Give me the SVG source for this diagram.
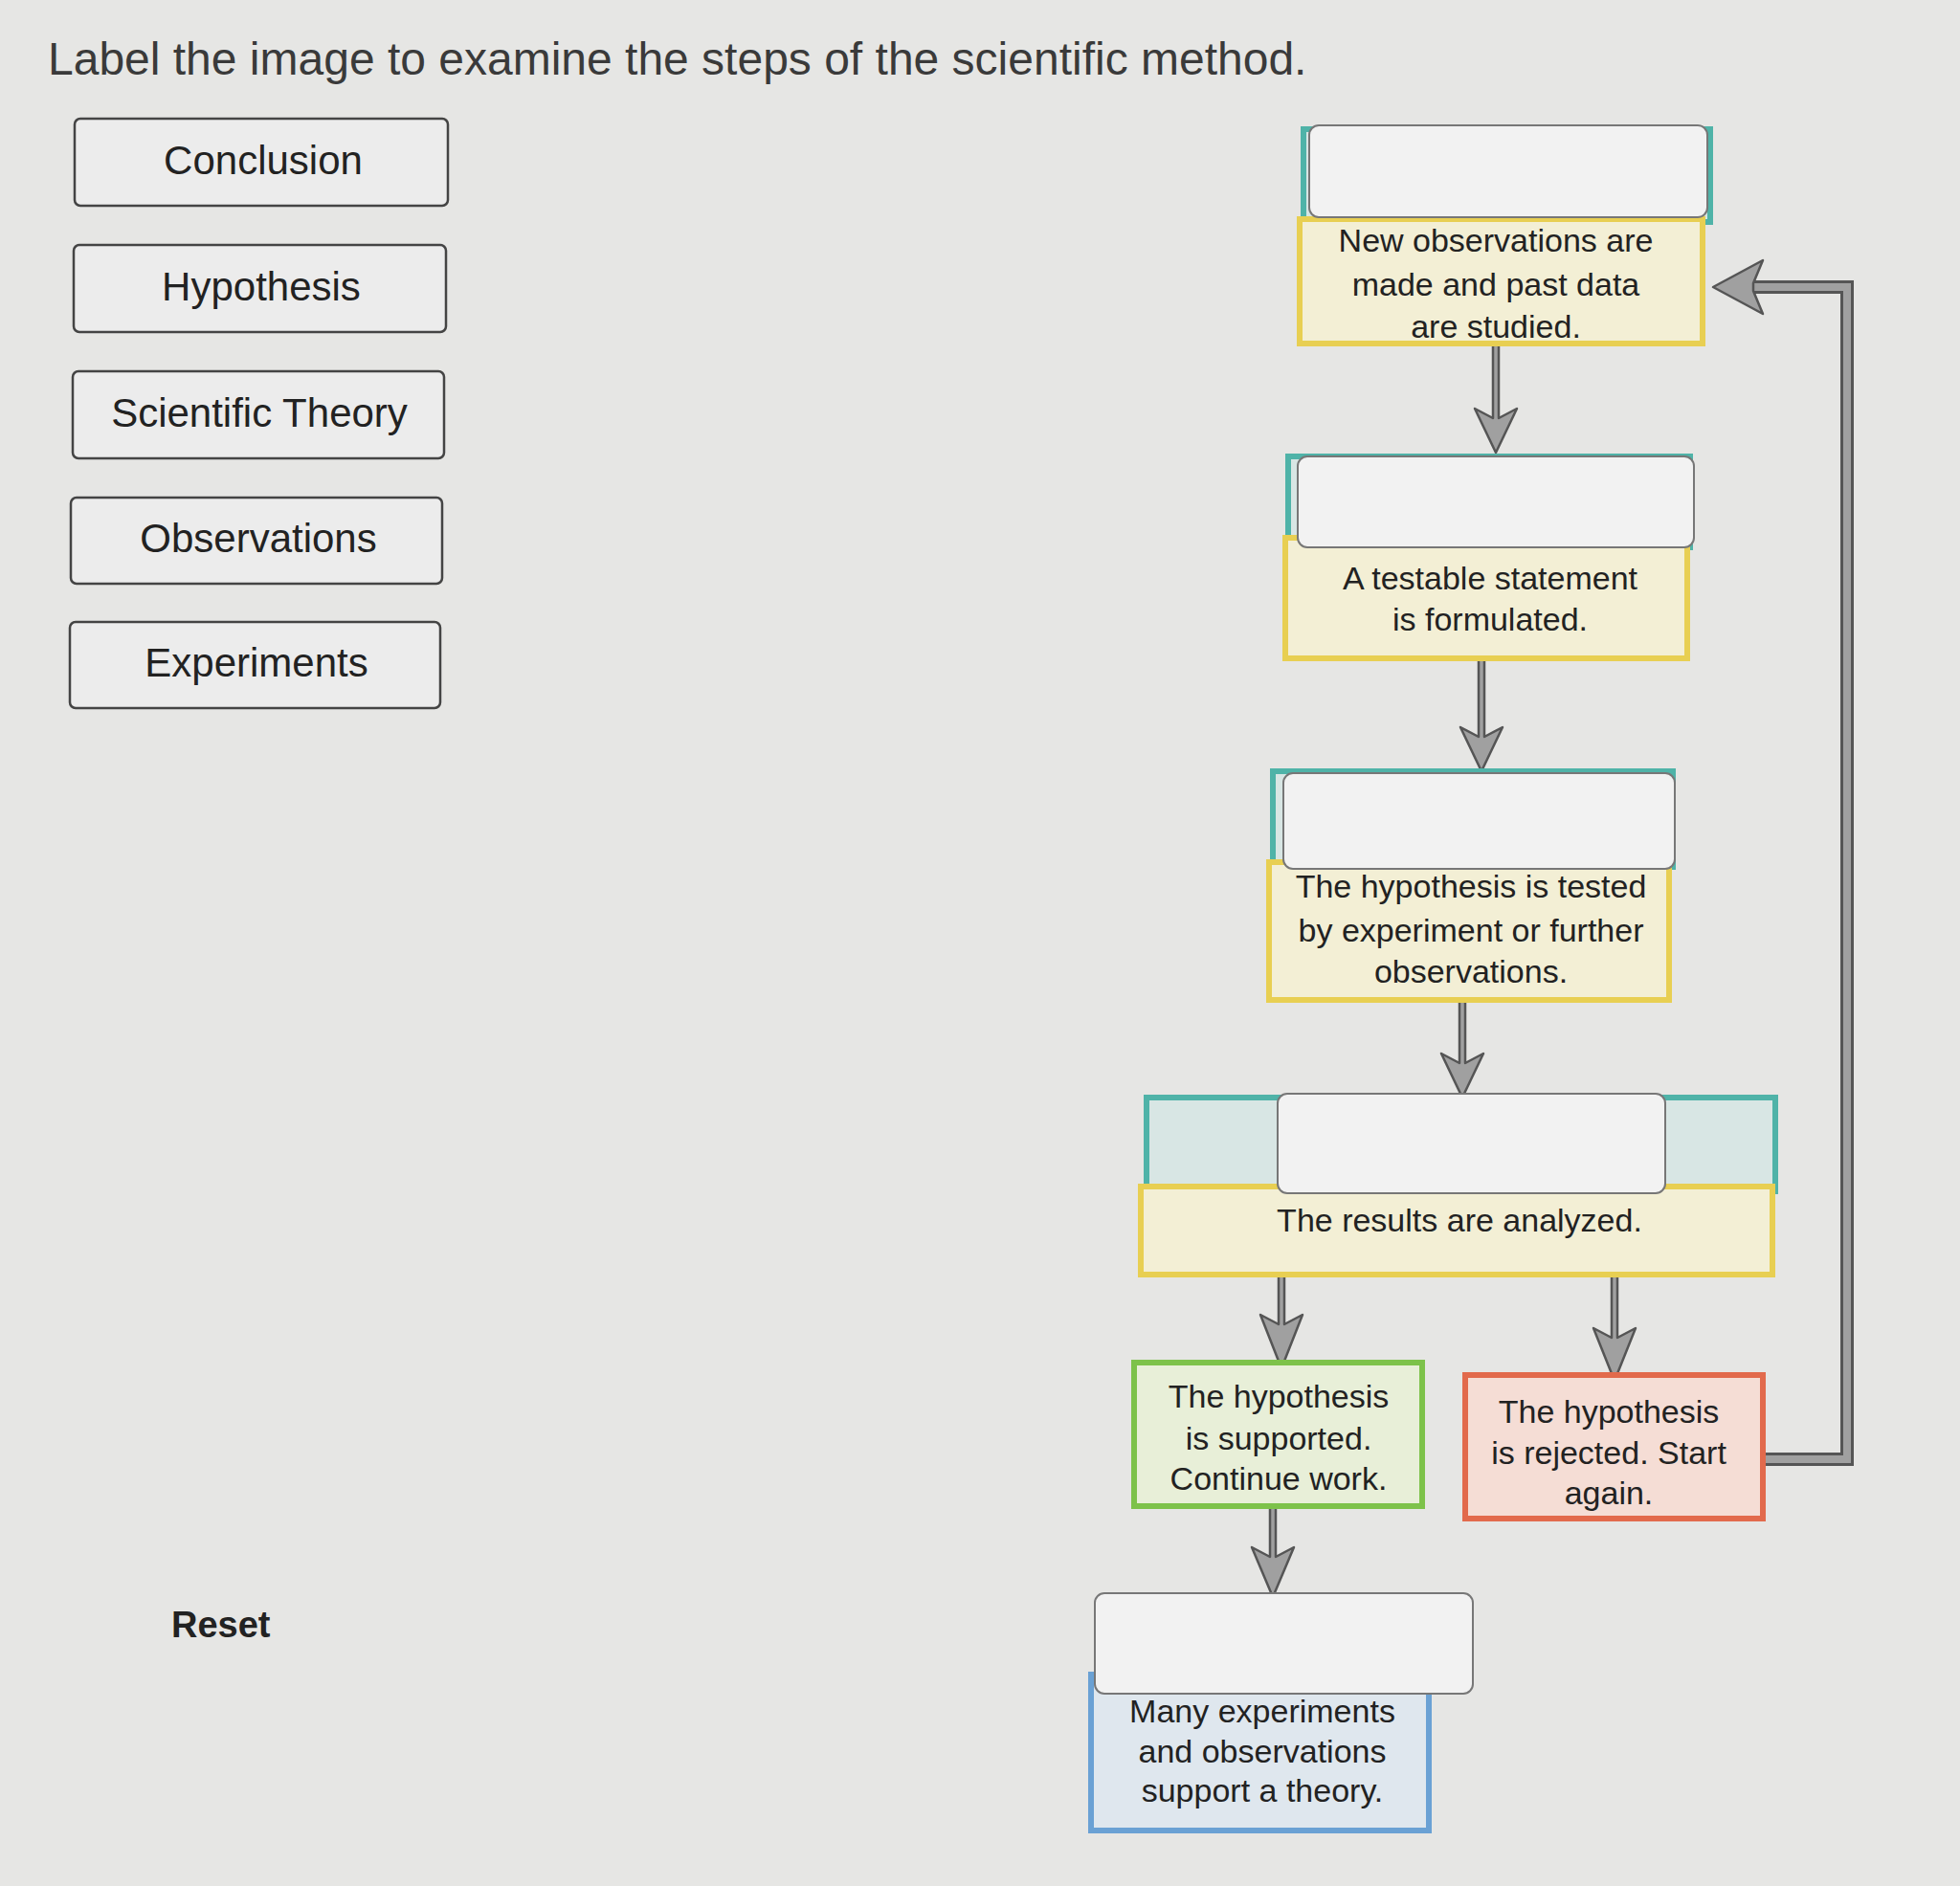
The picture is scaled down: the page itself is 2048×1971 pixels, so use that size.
<svg xmlns="http://www.w3.org/2000/svg" width="2048" height="1971" viewBox="0 0 2048 1971">
<style>
text{font-family:"Liberation Sans",Arial,sans-serif;fill:#222}
.t{font-size:48px;fill:#3a3a3a}
.btn{fill:#ececec;stroke:#444;stroke-width:2.5}
.d{font-size:34px;text-anchor:middle}
.lab{fill:#f2f2f2;stroke:#777;stroke-width:2}
.teal{fill:#d8e6e4;stroke:#4fb3a8;stroke-width:6}
.yel{fill:#f3efd5;stroke:#e8cf52;stroke-width:6}
.ar{fill:#a0a0a0;stroke:#555;stroke-width:2.5;stroke-linejoin:round}
</style>
<rect width="2048" height="1971" fill="#e6e6e4"/>
<text x="50" y="78" class="t">Label the image to examine the steps of the scientific method.</text>
<g id="bank" font-size="42">
<rect class="btn" x="78" y="124" width="390" height="91" rx="6"/><text x="275" y="182" class="d" style="font-size:42px">Conclusion</text>
<rect class="btn" x="77" y="256" width="389" height="91" rx="6"/><text x="273" y="314" class="d" style="font-size:42px">Hypothesis</text>
<rect class="btn" x="76" y="388" width="388" height="91" rx="6"/><text x="271" y="446" class="d" style="font-size:42px">Scientific Theory</text>
<rect class="btn" x="74" y="520" width="388" height="90" rx="6"/><text x="270" y="577" class="d" style="font-size:42px">Observations</text>
<rect class="btn" x="73" y="650" width="387" height="90" rx="6"/><text x="268" y="707" class="d" style="font-size:42px">Experiments</text>
</g>
<text x="179" y="1711" style="font-size:38px;font-weight:bold">Reset</text>
<g id="connectors">
<path d="M1842 1525 H1930 V300 H1830" fill="none" stroke="#555" stroke-width="14"/>
<path d="M1842 1525 H1930 V300 H1830" fill="none" stroke="#a0a0a0" stroke-width="8"/>
<polygon class="ar" points="1790,300 1842,272 1832,296 1832,304 1842,328"/>
<g id="a1"><polygon class="ar" transform="translate(1563,359)" points="-3,0 3,0 3,78 22,68 0,114 -22,68 -3,78"/></g>
<polygon class="ar" transform="translate(1548,688)" points="-3,0 3,0 3,82 22,72 0,118 -22,72 -3,82"/>
<polygon class="ar" transform="translate(1528,1045)" points="-3,0 3,0 3,66 22,56 0,102 -22,56 -3,66"/>
<polygon class="ar" transform="translate(1339,1312)" points="-3,0 3,0 3,72 22,62 0,118 -22,62 -3,72"/>
<polygon class="ar" transform="translate(1687,1326)" points="-3,0 3,0 3,72 22,62 0,117 -22,62 -3,72"/>
<polygon class="ar" transform="translate(1330,1567)" points="-3,0 3,0 3,60 22,50 0,102 -22,50 -3,60"/>
</g>
<g id="n1">
<rect class="teal" x="1362" y="135" width="425" height="97"/>
<rect class="yel" x="1358" y="229" width="421" height="130"/>
<rect class="lab" x="1368" y="131" width="416" height="96" rx="10"/>
<text class="d" x="1563" y="263">New observations are</text>
<text class="d" x="1563" y="309">made and past data</text>
<text class="d" x="1563" y="353">are studied.</text>
</g>
<g id="n2">
<rect class="teal" x="1346" y="477" width="420" height="95"/>
<rect class="yel" x="1343" y="562" width="420" height="126"/>
<rect class="lab" x="1356" y="477" width="414" height="95" rx="10"/>
<text class="d" x="1557" y="616">A testable statement</text>
<text class="d" x="1557" y="659">is formulated.</text>
</g>
<g id="n3">
<rect class="teal" x="1330" y="806" width="418" height="100"/>
<rect class="yel" x="1326" y="901" width="418" height="144"/>
<rect class="lab" x="1341" y="808" width="409" height="100" rx="10"/>
<text class="d" x="1537" y="938">The hypothesis is tested</text>
<text class="d" x="1537" y="984">by experiment or further</text>
<text class="d" x="1537" y="1027">observations.</text>
</g>
<g id="n4">
<rect class="teal" x="1198" y="1147" width="657" height="98"/>
<rect class="yel" x="1192" y="1240" width="660" height="92"/>
<rect class="lab" x="1335" y="1143" width="405" height="104" rx="10"/>
<text class="d" x="1525" y="1287">The results are analyzed.</text>
</g>
<g id="n5">
<rect x="1185" y="1424" width="301" height="150" fill="#e8efd8" stroke="#7dc24a" stroke-width="6"/>
<text class="d" x="1336" y="1471">The hypothesis</text>
<text class="d" x="1336" y="1515">is supported.</text>
<text class="d" x="1336" y="1557">Continue work.</text>
</g>
<g id="n6">
<rect x="1531" y="1437" width="311" height="150" fill="#f5ddd5" stroke="#e26a4c" stroke-width="6"/>
<text class="d" x="1681" y="1487">The hypothesis</text>
<text class="d" x="1681" y="1530">is rejected. Start</text>
<text class="d" x="1681" y="1572">again.</text>
</g>
<g id="n7">
<rect x="1140" y="1750" width="353" height="163" fill="#dfe7ee" stroke="#6aa1d4" stroke-width="6"/>
<rect class="lab" x="1144" y="1665" width="395" height="105" rx="10"/>
<text class="d" x="1319" y="1800">Many experiments</text>
<text class="d" x="1319" y="1842">and observations</text>
<text class="d" x="1319" y="1883">support a theory.</text>
</g>
</svg>
